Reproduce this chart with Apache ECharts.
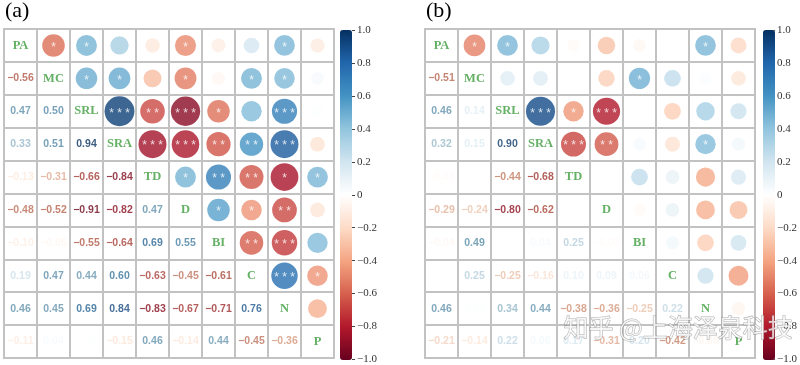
<!DOCTYPE html>
<html><head><meta charset="utf-8">
<script src="https://cdn.jsdelivr.net/npm/echarts@6/dist/echarts.min.js"></script>
<style>html,body{margin:0;padding:0;background:#fff}#c{width:800px;height:365px}</style>
</head><body><div id="c"></div>
<script>
// ---------------- data ----------------
const vars = ['PA','MC','SRL','SRA','TD','D','BI','C','N','P'];
// lower triangle: corrX[i][j] = r(vars[i], vars[j]) for j < i
const corrA = [
  [],
  [-0.56],
  [0.47, 0.50],
  [0.33, 0.51, 0.94],
  [-0.13, -0.31, -0.66, -0.84],
  [-0.48, -0.52, -0.91, -0.82, 0.47],
  [-0.10, -0.05, -0.55, -0.64, 0.69, 0.55],
  [0.19, 0.47, 0.44, 0.60, -0.63, -0.45, -0.61],
  [0.46, 0.45, 0.69, 0.84, -0.83, -0.67, -0.71, 0.76],
  [-0.11, 0.04, 0.01, -0.15, 0.46, -0.14, 0.44, -0.45, -0.36]
];
// significance marks, upper triangle: sigX[i][k] for column j = i + 1 + k
const sigA = [
  ['*','*','','','*','','','*',''],
  ['*','*','','*','','*','*',''],
  ['***','**','***','*','','***',''],
  ['***','***','**','**','***',''],
  ['*','**','**','*','*'],
  ['*','*','**',''],
  ['**','***',''],
  ['***','*'],
  ['']
];
const corrB = [
  [],
  [-0.51],
  [0.46, 0.14],
  [0.32, 0.15, 0.90],
  [-0.03, 0.00, -0.44, -0.68],
  [-0.29, -0.24, -0.80, -0.62, 0.00],
  [-0.04, 0.49, 0.00, 0.04, 0.25, -0.03],
  [0.00, 0.25, -0.25, -0.16, 0.10, 0.09, 0.06],
  [0.46, 0.02, 0.34, 0.44, -0.38, -0.36, -0.25, 0.22],
  [-0.21, -0.14, 0.22, 0.06, 0.17, -0.31, 0.20, -0.42, -0.06]
];
const sigB = [
  ['*','*','','','','','','*',''],
  ['','','','','*','','',''],
  ['***','*','***','','','',''],
  ['***','**','','','*',''],
  ['','','','',''],
  ['','','',''],
  ['','',''],
  ['',''],
  ['']
];
const panelLabels = ['(a)', '(b)'];
const cbMin = -1, cbMax = 1, cbStep = 0.2;
const watermark = '知乎 @上海泽泉科技';

// ---------------- styling helpers ----------------
const stops = ['#67001f','#b2182b','#d6604d','#f4a582','#fddbc7','#ffffff','#d1e5f0','#92c5de','#4393c3','#2166ac','#053061'];
function hex(h){return [parseInt(h.slice(1,3),16),parseInt(h.slice(3,5),16),parseInt(h.slice(5,7),16)];}
function rgbOf(v){
  const t = (v + 1) / 2 * 10;
  const i = Math.max(0, Math.min(9, Math.floor(t)));
  const f = t - i;
  const a = hex(stops[i]), b = hex(stops[i+1]);
  return a.map((x,k)=>Math.round(x + (b[k]-x)*f));
}
function colorOf(v){ return 'rgb(' + rgbOf(v).join(',') + ')'; }
function textColorOf(v){
  const k = 1 - 0.2 * Math.max(0, Math.min(1, (Math.abs(v) - 0.15) / 0.3));
  return 'rgb(' + rgbOf(v).map(x => Math.round(x * k)).join(',') + ')';
}
function fmt(v){ return (v < 0 ? '\u2212' : '') + Math.abs(v).toFixed(2); }
const serif = 'Liberation Serif';
const sans = 'Liberation Sans';
const cellLine = '#c2c2c2';

const grid = [], xAxis = [], yAxis = [], series = [], visualMap = [];

function panel(p, corr, sig, left, cbLeft) {
  const gi = grid.length;
  grid.push({left: left, top: 29, width: 330, height: 329, show: true, borderColor: cellLine, borderWidth: 2, backgroundColor: '#fff'});
  xAxis.push({gridIndex: gi, type: 'category', data: vars, axisLabel: {show: false}, axisTick: {show: false}, axisLine: {show: false},
    splitLine: {show: true, lineStyle: {color: cellLine, width: 2}}});
  yAxis.push({gridIndex: gi, type: 'category', data: vars, inverse: true, axisLabel: {show: false}, axisTick: {show: false}, axisLine: {show: false},
    splitLine: {show: true, lineStyle: {color: cellLine, width: 2}}});
  // diagonal names
  series.push({type: 'scatter', xAxisIndex: gi, yAxisIndex: gi, symbolSize: 0, silent: true,
    data: vars.map((v,i)=>({value: [i, i], name: v})),
    label: {show: true, position: 'inside', formatter: d => d.name, color: '#3d9c3d', fontFamily: serif, fontWeight: 'bold', fontSize: 12.5}});
  // lower triangle numbers
  const lower = [];
  corr.forEach((row, i) => row.forEach((r, j) => {
    lower.push({value: [j, i, r], label: {color: textColorOf(r)}});
  }));
  series.push({type: 'scatter', xAxisIndex: gi, yAxisIndex: gi, symbolSize: 0, silent: true, data: lower,
    label: {show: true, position: 'inside', formatter: d => fmt(d.value[2]), fontFamily: sans, fontWeight: 'bold', fontSize: 10.5}});
  // upper triangle circles
  const upper = [];
  for (let i = 0; i < vars.length; i++) {
    for (let j = i + 1; j < vars.length; j++) {
      const r = corr[j][i];
      upper.push({value: [j, i, r], star: sig[i][j - i - 1], symbolSize: 12 + 19 * Math.abs(r), itemStyle: {color: colorOf(r)}});
    }
  }
  series.push({type: 'scatter', xAxisIndex: gi, yAxisIndex: gi, silent: true, data: upper,
    label: {show: true, position: 'inside', offset: [0, 2], formatter: d => d.data.star.split('').join(' '), color: '#fff', fontFamily: sans, fontSize: 12}});

  // colorbar axis
  const ci = grid.length;
  grid.push({left: cbLeft, top: 30, width: 12, height: 330});
  xAxis.push({gridIndex: ci, type: 'category', data: [''], show: false});
  yAxis.push({gridIndex: ci, type: 'value', min: cbMin, max: cbMax, interval: cbStep, position: 'right',
    axisLine: {show: false}, splitLine: {show: false},
    axisTick: {show: true, length: 3, lineStyle: {color: '#444'}},
    axisLabel: {margin: 5, color: '#333', fontFamily: serif, fontSize: 11,
      formatter: v => Math.abs(v) < 1e-9 ? '0' : (v < 0 ? '\u2212' : '') + Math.abs(v).toFixed(1)}});
  const si = series.length;
  series.push({type: 'scatter', xAxisIndex: ci, yAxisIndex: ci, data: [], silent: true});
  visualMap.push({type: 'continuous', min: cbMin, max: cbMax, seriesIndex: si, orient: 'vertical',
    left: cbLeft, top: 30, itemWidth: 12, itemHeight: 330, padding: 0, calculable: false, hoverLink: false,
    text: null, showLabel: false, inRange: {color: stops.slice()}, textStyle: {fontSize: 0}});
}

panel(0, corrA, sigA, 4, 340);
panel(1, corrB, sigB, 425, 763);

const chart = echarts.init(document.getElementById('c'), null, {renderer: 'canvas'});
chart.setOption({
  animation: false,
  backgroundColor: '#fff',
  title: [
    {text: panelLabels[0], left: 5, top: 0, padding: 0, textStyle: {fontFamily: serif, fontSize: 22, fontWeight: 'normal', color: '#000'}},
    {text: panelLabels[1], left: 426, top: 0, padding: 0, textStyle: {fontFamily: serif, fontSize: 22, fontWeight: 'normal', color: '#000'}}
  ],
  grid, xAxis, yAxis, series, visualMap,
  graphic: [{type: 'text', left: 563, top: 314, silent: true, z: 100,
    style: {text: watermark, font: '25px "Noto Sans CJK SC"', fill: 'rgba(255,255,255,0.75)', stroke: 'rgba(110,110,110,0.55)', lineWidth: 1}}]
});
</script></body></html>
